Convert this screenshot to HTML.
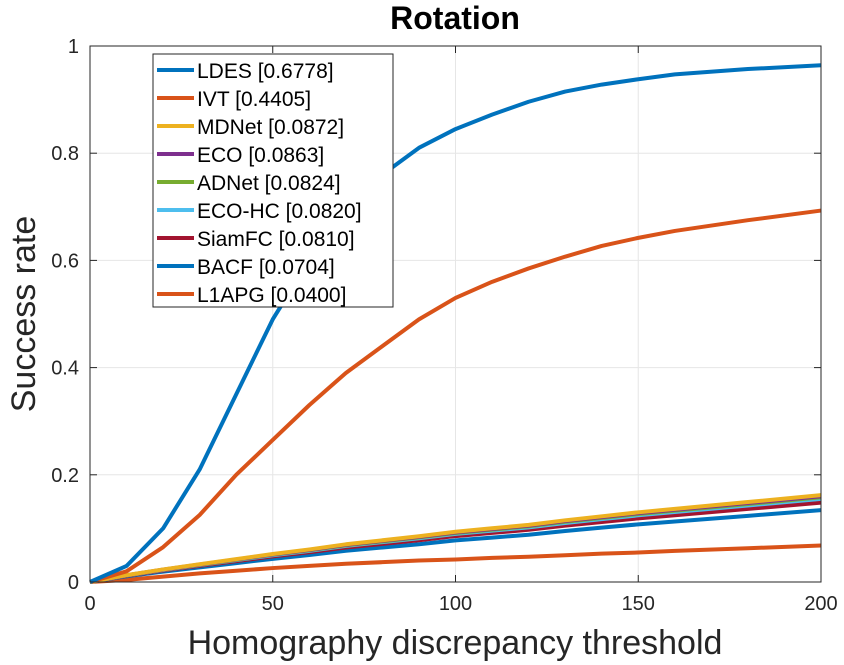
<!DOCTYPE html>
<html><head><meta charset="utf-8"><style>body{margin:0;background:#fff}svg{display:block;font-family:"Liberation Sans",sans-serif}</style></head>
<body>
<svg id="s" width="844" height="665" viewBox="0 0 844 665" xmlns="http://www.w3.org/2000/svg">
<rect width="844" height="665" fill="#fff"/>
<g id="grid" stroke="#e6e6e6" stroke-width="1"></g>
<text x="455" y="29" font-size="32" font-weight="bold" text-anchor="middle" fill="#000">Rotation</text>
<g id="lines" fill="none" stroke-width="4" stroke-linejoin="round"></g>
<g id="axes" stroke="#262626" stroke-width="1" fill="none">
<path d="M90 46 H821 V582 H90 Z"/>
</g>
<g id="labels" font-size="20" fill="#262626"></g>
<text x="455" y="654" font-size="34" text-anchor="middle" fill="#262626">Homography discrepancy threshold</text>
<text transform="translate(35,314) rotate(-90)" font-size="34" text-anchor="middle" fill="#262626">Success rate</text>
<g id="legend"></g>
</svg>
<script>
var X=v=>90+v*3.655,Y=v=>582-v*536,ns="http://www.w3.org/2000/svg";
function el(p,t,a,txt){var e=document.createElementNS(ns,t);for(var k in a)e.setAttribute(k,a[k]);if(txt)e.textContent=txt;document.getElementById(p).appendChild(e);return e;}
[50,100,150].forEach(v=>el("grid","line",{x1:X(v),x2:X(v),y1:46,y2:582}));
[0.2,0.4,0.6,0.8].forEach(v=>el("grid","line",{x1:90,x2:821,y1:Y(v),y2:Y(v)}));
[0,50,100,150,200].forEach(v=>{el("labels","text",{x:X(v),y:610,"text-anchor":"middle"},""+v);el("axes","line",{x1:X(v),x2:X(v),y1:582,y2:575});el("axes","line",{x1:X(v),x2:X(v),y1:46,y2:53});});
[0,0.2,0.4,0.6,0.8,1].forEach(v=>{el("labels","text",{x:79,y:Y(v)+7,"text-anchor":"end"},""+v);el("axes","line",{x1:90,x2:97,y1:Y(v),y2:Y(v)});el("axes","line",{x1:821,x2:814,y1:Y(v),y2:Y(v)});});
var xs=[0,10,20,30,40,50,60,70,80,90,100,110,120,130,140,150,160,180,200];
var base=[0,.012,.022,.031,.04,.049,.057,.066,.073,.08,.088,.094,.1,.108,.115,.122,.128,.14,.152];
function lin(end){return base.map(v=>v*end/0.152);}
var S=[
["#0072BD",[0,.03,.1,.21,.35,.49,.6,.69,.76,.81,.845,.872,.896,.915,.928,.938,.947,.957,.964],"LDES [0.6778]"],
["#D95319",[0,.02,.065,.125,.2,.265,.33,.39,.44,.49,.53,.56,.585,.607,.627,.642,.655,.675,.693],"IVT [0.4405]"],
["#EDB120",lin(.162),"MDNet [0.0872]"],
["#7E2F8E",lin(.16),"ECO [0.0863]"],
["#77AC30",lin(.158),"ADNet [0.0824]"],
["#4DBEEE",lin(.155),"ECO-HC [0.0820]"],
["#A2142F",lin(.148),"SiamFC [0.0810]"],
["#0072BD",lin(.134),"BACF [0.0704]"],
["#D95319",[0,.004,.01,.016,.021,.026,.03,.034,.037,.04,.042,.045,.047,.05,.053,.055,.058,.063,.068],"L1APG [0.0400]"]];
for(var i=S.length-1;i>=0;i--){el("lines","polyline",{stroke:S[i][0],points:xs.map((x,j)=>X(x)+","+Y(S[i][1][j])).join(" ")});}
el("legend","rect",{x:153,y:54,width:240,height:253,fill:"#fff",stroke:"#262626","stroke-width":1});
S.forEach((s,i)=>{var y=70+i*28;el("legend","line",{x1:157,x2:194,y1:y,y2:y,stroke:s[0],"stroke-width":4});el("legend","text",{x:197,y:y+8,"font-size":21,fill:"#000"},s[2]);});
</script>
</body></html>
